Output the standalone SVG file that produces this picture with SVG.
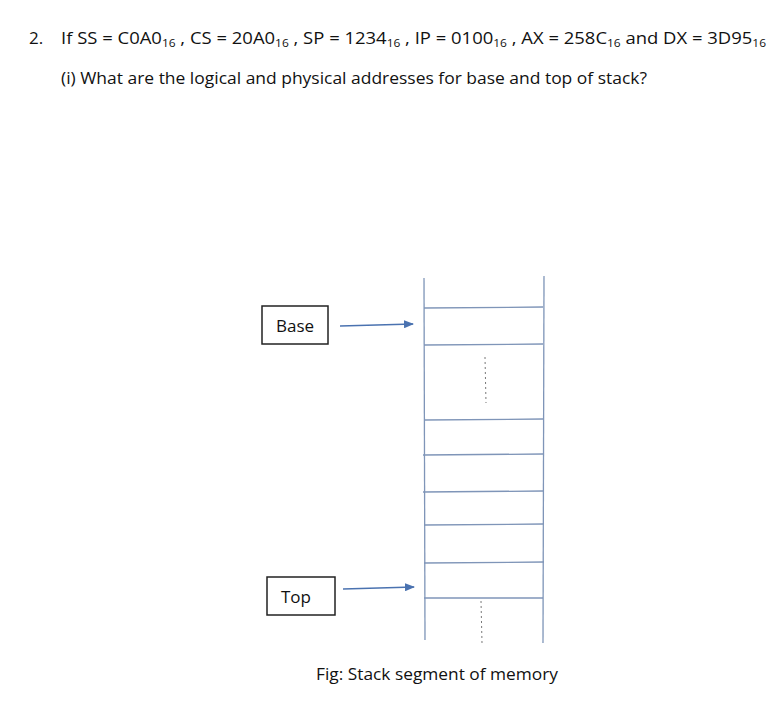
<svg xmlns="http://www.w3.org/2000/svg" width="770" height="713" viewBox="0 0 770 713">
<style>
text{font-family:"Open Sans","Liberation Sans",sans-serif;fill:#111}
.t{font-size:17px}
.s{font-size:11px}
.g{stroke:#7f95b8;stroke-width:1.3;fill:none}
.box{fill:#fff;stroke:#222;stroke-width:1.5}
.ar{stroke:#4a72b0;stroke-width:1.3;fill:none}
.dot{stroke:#777;stroke-width:1;stroke-dasharray:2 3}
</style>
<defs><marker id="ah" markerWidth="10" markerHeight="8" refX="9" refY="4" orient="auto" markerUnits="userSpaceOnUse"><path d="M0,0L10,4L0,8z" fill="#4a72b0"/></marker></defs>
<rect width="770" height="713" fill="#fff"/>
<text class="t" x="29" y="44">2.</text>
<text class="t" x="61" y="44" textLength="705" lengthAdjust="spacingAndGlyphs">If SS = C0A0<tspan class="s" dy="3">16</tspan><tspan dy="-3"> ,  CS = 20A0</tspan><tspan class="s" dy="3">16</tspan><tspan dy="-3"> ,  SP = 1234</tspan><tspan class="s" dy="3">16</tspan><tspan dy="-3">  , IP = 0100</tspan><tspan class="s" dy="3">16</tspan><tspan dy="-3"> ,  AX = 258C</tspan><tspan class="s" dy="3">16</tspan><tspan dy="-3">  and DX = 3D95</tspan><tspan class="s" dy="3">16</tspan></text>
<text class="t" x="61" y="84" textLength="586" lengthAdjust="spacingAndGlyphs">(i) What are the logical and physical addresses for base and top of stack?</text>
<g id="stack">
<line class="g" x1="424" y1="278" x2="425" y2="640"/>
<line class="g" x1="544" y1="276" x2="543" y2="643"/>
<line class="g" x1="424" y1="308" x2="543" y2="307"/>
<line class="g" x1="424" y1="345" x2="543" y2="344"/>
<line class="g" x1="424" y1="420" x2="543" y2="419"/>
<line class="g" x1="423" y1="455" x2="543" y2="454"/>
<line class="g" x1="423" y1="492" x2="543" y2="491"/>
<line class="g" x1="424" y1="525" x2="543" y2="524"/>
<line class="g" x1="424" y1="563" x2="544" y2="562"/>
<line class="g" x1="424" y1="598" x2="543" y2="598"/>
<line class="dot" x1="485" y1="357" x2="486" y2="403"/>
<line class="dot" x1="481" y1="601" x2="482" y2="643"/>
</g>
<g id="base"><rect class="box" x="262" y="306" width="66" height="38"/><text class="t" x="295" y="332" text-anchor="middle">Base</text></g>
<g id="top"><rect class="box" x="267" y="577" width="68" height="38"/><text class="t" x="296" y="603" text-anchor="middle">Top</text></g>
<g id="connectors">
<line class="ar" x1="340" y1="326" x2="413" y2="324" marker-end="url(#ah)"/>
<line class="ar" x1="343" y1="589" x2="414" y2="587" marker-end="url(#ah)"/>
</g>
<text class="t" x="316" y="680" textLength="242" lengthAdjust="spacingAndGlyphs">Fig: Stack segment of memory</text>
</svg>
